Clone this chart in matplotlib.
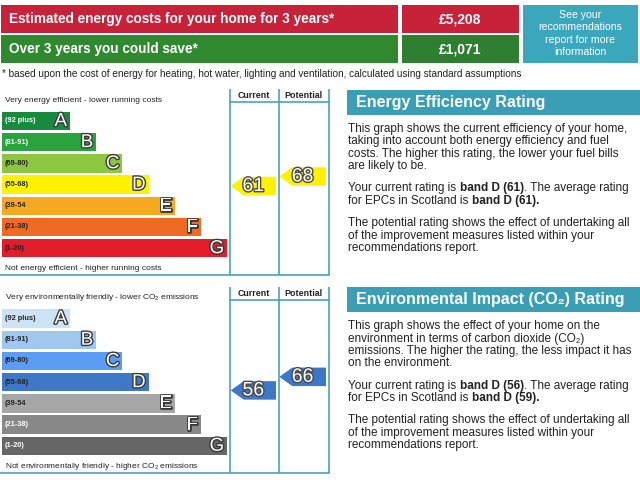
import matplotlib.pyplot as plt
import matplotlib.patheffects as pe
from matplotlib.patches import Rectangle, Polygon

plt.rcParams["font.family"] = ["Liberation Sans", "DejaVu Sans"]
plt.rcParams["mathtext.fontset"] = "custom"
plt.rcParams["mathtext.rm"] = "Liberation Sans"
plt.rcParams["mathtext.bf"] = "Liberation Sans:bold"
plt.rcParams["mathtext.default"] = "regular"

bands = ["A", "B", "C", "D", "E", "F", "G"]
band_ranges = ["(92 plus)", "(81-91)", "(69-80)", "(55-68)", "(39-54", "(21-38)", "(1-20)"]
band_floor = [92, 81, 69, 55, 39, 21, 1]

energy_colors = ["#19893d", "#2ba33d", "#8dc63f", "#fff200", "#f7a823", "#ef6b24", "#e31c2a"]
energy_label_colors = ["white", "white", "#222222", "#222222", "#222222", "#222222", "#222222"]
env_colors = ["#cde3f5", "#a2c7ee", "#5b9cf5", "#3d78c8", "#a6a6a6", "#888888", "#666666"]
env_label_colors = ["#222222", "#222222", "#222222", "#222222", "#222222", "white", "white"]

energy_current, energy_potential = 61, 68
env_current, env_potential = 56, 66
energy_scotland_avg, env_scotland_avg = 61, 59

cost_3_years = 5208
saving_3_years = 1071

TEAL = "#3a9fb5"
LINE = "#4aa2bf"
TEXT = "#222222"


def band_of(value):
    for i, floor in enumerate(band_floor):
        if value >= floor:
            return i
    return len(bands) - 1


fig = plt.figure(figsize=(6.4, 4.8), dpi=100)
ax = fig.add_axes([0, 0, 1, 1])
ax.set_xlim(0, 640)
ax.set_ylim(480, 0)
ax.axis("off")

# --- cost banner ---
ax.add_patch(Rectangle((1, 5), 397, 28.3, color="#c8213a", lw=0))
ax.add_patch(Rectangle((401.7, 5), 117.6, 28.3, color="#c8213a", lw=0))
ax.add_patch(Rectangle((1, 35), 397, 28.3, color="#2f8a2f", lw=0))
ax.add_patch(Rectangle((401.7, 35), 117.6, 28.3, color="#2e7f31", lw=0))
ax.add_patch(Rectangle((522.7, 5), 115.3, 58.3, color="#3ba7bd", lw=0))
ax.text(9, 19.5, "Estimated energy costs for your home for 3 years*", color="white",
        fontsize=9.8, fontweight="bold", va="center")
ax.text(9, 49.5, "Over 3 years you could save*", color="white",
        fontsize=9.8, fontweight="bold", va="center")
ax.text(460.5, 19.5, f"£{cost_3_years:,}", color="white", fontsize=10,
        fontweight="bold", va="center", ha="center")
ax.text(460.5, 49.5, f"£{saving_3_years:,}", color="white", fontsize=10,
        fontweight="bold", va="center", ha="center")
ax.text(580.3, 33.5, "See your\nrecommendations\nreport for more\ninformation",
        color="white", fontsize=7.6, ha="center", va="center", linespacing=1.3)
ax.text(2, 74, "* based upon the cost of energy for heating, hot water, lighting and "
        "ventilation, calculated using standard assumptions",
        color=TEXT, fontsize=7.2, va="center")


def draw_chart(top, colors, label_colors, current, potential, top_text, bottom_text):
    bar_h = 18.5
    pitch = 21.2
    centers = [top + 22.7 + i * pitch + bar_h / 2 for i in range(len(bands))]
    widths = [68 + 26.2 * i for i in range(len(bands))]
    ax.barh(centers, widths, left=2, height=bar_h, color=colors, lw=0)
    for i, (c, w) in enumerate(zip(centers, widths)):
        ax.text(5, c, band_ranges[i], fontsize=5.3, fontweight="bold",
                color=label_colors[i], va="center")
        ax.text(2 + w - 3, c + 0.5, bands[i], fontsize=13.5, color="white",
                ha="right", va="center",
                path_effects=[pe.Stroke(linewidth=2.0, foreground="#3a3a3a"), pe.Normal()])

    ax.text(5, top + 11, top_text, fontsize=6, color=TEXT, va="center")
    ax.text(5, top + 180, bottom_text, fontsize=6, color=TEXT, va="center")

    cols = [230, 278.7, 329]
    bottom = top + 186
    for x in cols:
        ax.plot([x, x], [top, bottom], color=LINE, lw=1.2, solid_capstyle="butt")
    ax.plot([cols[0], cols[2]], [top + 13, top + 13], color=LINE, lw=1.2)
    ax.plot([0, cols[2]], [bottom, bottom], color=LINE, lw=1.2)
    ax.text(254.3, top + 6.7, "Current", fontsize=6.4, fontweight="bold",
            color=TEXT, ha="center", va="center")
    ax.text(303.8, top + 6.7, "Potential", fontsize=6.4, fontweight="bold",
            color=TEXT, ha="center", va="center")

    for value, (x0, x1) in ((current, (230.7, 276)), (potential, (279.3, 326))):
        yc = top + 179.8 - 1.357 * value
        half = bar_h / 2
        arrow = Polygon([(x0, yc), (x0 + 13, yc - half), (x1, yc - half),
                         (x1, yc + half), (x0 + 13, yc + half)],
                        closed=True, color=colors[band_of(value)], lw=0)
        ax.add_patch(arrow)
        ax.text((x0 + x1) / 2, yc + 0.5, str(value), fontsize=14, color="white",
                ha="center", va="center",
                path_effects=[pe.Stroke(linewidth=2.0, foreground="#4a4a4a"), pe.Normal()])


draw_chart(89, energy_colors, energy_label_colors, energy_current, energy_potential,
           "Very energy efficient - lower running costs",
           "Not energy efficient - higher running costs")
draw_chart(286.6, env_colors, env_label_colors, env_current, env_potential,
           "Very environmentally friendly - lower CO$_2$ emissions",
           "Not environmentally friendly - higher CO$_2$ emissions")


def rich_line(x, y, line, size=8.5):
    prev = None
    gap = 0.0
    for k, piece in enumerate(line.split("**")):
        if not piece:
            continue
        weight = "bold" if k % 2 else "normal"
        if piece.startswith(" "):
            gap += 0.278 * size
        body = piece.strip()
        if prev is None:
            prev = ax.text(x, y, body, fontsize=size, fontweight=weight,
                           color=TEXT, va="center", ha="left")
        else:
            prev = ax.annotate(body, xy=(1, 0), xycoords=prev, xytext=(gap, 0),
                               textcoords="offset points", fontsize=size,
                               fontweight=weight, color=TEXT, va="bottom", ha="left")
        gap = 0.278 * size if piece.endswith(" ") else 0.0


def draw_panel(box_top, title, paragraphs):
    ax.add_patch(Rectangle((346.7, box_top), 640 - 346.7, 24.5, color=TEAL, lw=0))
    ax.text(355.7, box_top + 12.5, title, color="white", fontsize=11.5,
            fontweight="bold", va="center")
    y = box_top + 39
    for para in paragraphs:
        for line in para:
            rich_line(348.5, y, line)
            y += 12.4
        y += 22.3 - 12.4


draw_panel(90, "Energy Efficiency Rating", [
    ["This graph shows the current efficiency of your home,",
     "taking into account both energy efficiency and fuel",
     "costs. The higher this rating, the lower your fuel bills",
     "are likely to be."],
    [f"Your current rating is **band D ({energy_current})**. The average rating",
     f"for EPCs in Scotland is **band D ({energy_scotland_avg}).**"],
    ["The potential rating shows the effect of undertaking all",
     "of the improvement measures listed within your",
     "recommendations report."],
])
draw_panel(287.3, "Environmental Impact (CO₂) Rating", [
    ["This graph shows the effect of your home on the",
     "environment in terms of carbon dioxide (CO₂)",
     "emissions. The higher the rating, the less impact it has",
     "on the environment."],
    [f"Your current rating is **band D ({env_current})**. The average rating",
     f"for EPCs in Scotland is **band D ({env_scotland_avg}).**"],
    ["The potential rating shows the effect of undertaking all",
     "of the improvement measures listed within your",
     "recommendations report."],
])

fig.savefig("out.png", dpi=100)
